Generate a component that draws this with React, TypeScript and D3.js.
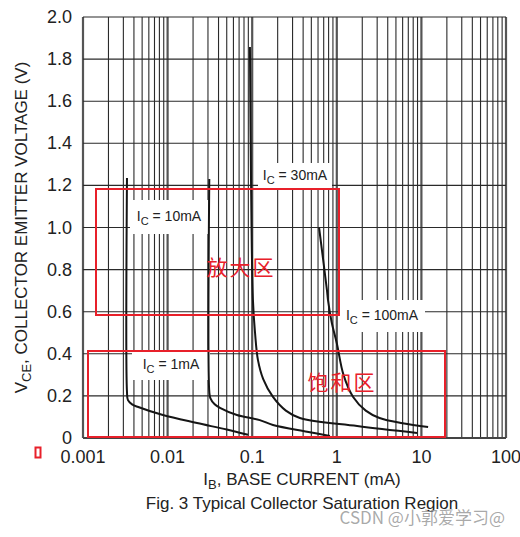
import React from "react";
import * as d3 from "d3";

// I_B (mA) vs V_CE (V)
const ic1mA: [number, number][] = [
  [0.00331, 1.235], [0.00331, 0.22], [0.0034, 0.18], [0.0038, 0.16], [0.0045, 0.147],
  [0.0088, 0.109], [0.0223, 0.071], [0.05, 0.04], [0.089, 0.015],
];
const ic10mA: [number, number][] = [
  [0.0311, 1.23], [0.0311, 0.22], [0.032, 0.19], [0.036, 0.16], [0.0416, 0.143],
  [0.066, 0.109], [0.123, 0.085], [0.176, 0.062], [0.445, 0.03], [0.83, 0.01],
];
const ic30mA: [number, number][] = [
  [0.094, 1.857], [0.097, 1.2], [0.102, 0.655], [0.108, 0.5], [0.117, 0.37], [0.135, 0.28],
  [0.176, 0.195], [0.25, 0.13], [0.366, 0.095], [1.74, 0.057], [8.87, 0.024],
];
const ic100mA: [number, number][] = [
  [0.617, 1.0], [0.766, 0.7], [0.787, 0.655], [0.87, 0.55], [1.0, 0.45], [1.2, 0.3],
  [1.56, 0.195], [2.2, 0.13], [3.2, 0.095], [6, 0.07], [12, 0.052],
];
const xTickLabels = ["0.001", "0.01", "0.1", "1", "10", "100"];
const yTickLabels = ["0", "0.2", "0.4", "0.6", "0.8", "1.0", "1.2", "1.4", "1.6", "1.8", "2.0"];
const curveLabels = ["10mA", "30mA", "1mA", "100mA"];

const W = 520;
const H = 537;
const left = 83, right = 506, top = 17, bottom = 438;
const font = "'Liberation Sans', Arial, sans-serif";
const red = "#e8202a";

export default function App() {
  const x = d3.scaleLog().domain([0.001, 100]).range([left, right]);
  const y = d3.scaleLinear().domain([0, 2]).range([bottom, top]);

  const line = d3
    .line<[number, number]>()
    .x((d) => x(d[0]))
    .y((d) => y(d[1]))
    .curve(d3.curveCatmullRom.alpha(0.5));

  // 1..9 per decade
  const vTicks = x.ticks();
  const decades = xTickLabels.map((t) => +t);

  // white label patches sit over the grid
  const labelBoxes = [
    { text: curveLabels[0], bx: 130, by: 200, bw: 78, bh: 34 },
    { text: curveLabels[1], bx: 258, by: 163, bw: 74, bh: 26 },
    { text: curveLabels[2], bx: 132, by: 350, bw: 78, bh: 30 },
    { text: curveLabels[3], bx: 339, by: 300, bw: 86, bh: 32 },
  ];

  return (
    <div style={{ position: "absolute", left: 0, top: 0 }}>
      <svg width={W} height={H} style={{ display: "block", background: "#fff" }}>
        {/* grid */}
        <g>
          {vTicks.map((t, i) => {
            const isDec = decades.some((d) => Math.abs(d - t) / d < 1e-6);
            return (
              <line
                key={"v" + i}
                x1={x(t)}
                x2={x(t)}
                y1={top}
                y2={bottom}
                stroke={isDec ? "#555" : "#2a2a2a"}
                strokeWidth={isDec ? 2.2 : 1.1}
              />
            );
          })}
          {yTickLabels.map((t, i) => (
            <line key={"h" + i} x1={left} x2={right} y1={y(+t)} y2={y(+t)} stroke="#2a2a2a" strokeWidth={1.1} />
          ))}
          <line x1={left} x2={right} y1={bottom} y2={bottom} stroke="#444" strokeWidth={2} />
        </g>

        {labelBoxes.map((b, i) => (
          <rect key={"wb" + i} x={b.bx} y={b.by} width={b.bw} height={b.bh} fill="#fff" />
        ))}

        {/* curves */}
        {[ic1mA, ic10mA, ic30mA, ic100mA].map((c, i) => (
          <path key={"c" + i} d={line(c) || ""} fill="none" stroke="#151515" strokeWidth={2} />
        ))}

        {/* curve labels */}
        {labelBoxes.map((b, i) => (
          <text
            key={"lt" + i}
            x={b.bx + b.bw / 2}
            y={b.by + b.bh / 2 + 4}
            textAnchor="middle"
            fontFamily={font}
            fontSize={14}
            fill="#222"
          >
            I<tspan fontSize={11} dy={4}>C</tspan>
            <tspan dy={-4}>{" = " + b.text}</tspan>
          </text>
        ))}

        {/* tick labels */}
        {yTickLabels.map((t, i) => (
          <text
            key={"yl" + i}
            x={72}
            y={y(+t) + 6}
            textAnchor="end"
            fontFamily={font}
            fontSize={18}
            fill="#222"
          >
            {t}
          </text>
        ))}
        {xTickLabels.map((t, i) => (
          <text key={"xl" + i} x={x(+t)} y={463} textAnchor="middle" fontFamily={font} fontSize={18} fill="#222">
            {t}
          </text>
        ))}

        {/* axis titles */}
        <text
          transform={`translate(27, ${(top + bottom) / 2}) rotate(-90)`}
          textAnchor="middle"
          fontFamily={font}
          fontSize={17}
          fill="#222"
        >
          V<tspan fontSize={13} dy={4}>CE</tspan>
          <tspan dy={-4}>, COLLECTOR EMITTER VOLTAGE (V)</tspan>
        </text>
        <text x={302} y={485} textAnchor="middle" fontFamily={font} fontSize={17} fill="#222">
          I<tspan fontSize={13} dy={4}>B</tspan>
          <tspan dy={-4}>, BASE CURRENT (mA)</tspan>
        </text>
        <text x={302} y={509} textAnchor="middle" fontFamily={font} fontSize={17} fill="#222">
          Fig. 3 Typical Collector Saturation Region
        </text>

        {/* red annotations */}
        <rect x={96} y={189} width={243} height={126} fill="none" stroke={red} strokeWidth={2} />
        <rect x={88} y={351} width={357} height={86} fill="none" stroke={red} strokeWidth={2} />
        <rect x={35.5} y={447.5} width={5} height={10} fill="none" stroke={red} strokeWidth={2} />
        <text
          x={241}
          y={275}
          textAnchor="middle"
          fontFamily="'Noto Sans CJK SC', sans-serif"
          fontSize={21}
          letterSpacing={2}
          fill={red}
        >
          放大区
        </text>
        <text
          x={342}
          y={390}
          textAnchor="middle"
          fontFamily="'Noto Sans CJK SC', sans-serif"
          fontSize={21}
          letterSpacing={2}
          fill={red}
        >
          饱和区
        </text>

        {/* watermark */}
        <text
          x={505}
          y={524}
          textAnchor="end"
          fontFamily="'Noto Sans CJK SC', sans-serif"
          fontSize={17}
          fill="#9a9a9a"
          fillOpacity={0.85}
        >
          CSDN @小郭爱学习@
        </text>
      </svg>
    </div>
  );
}
